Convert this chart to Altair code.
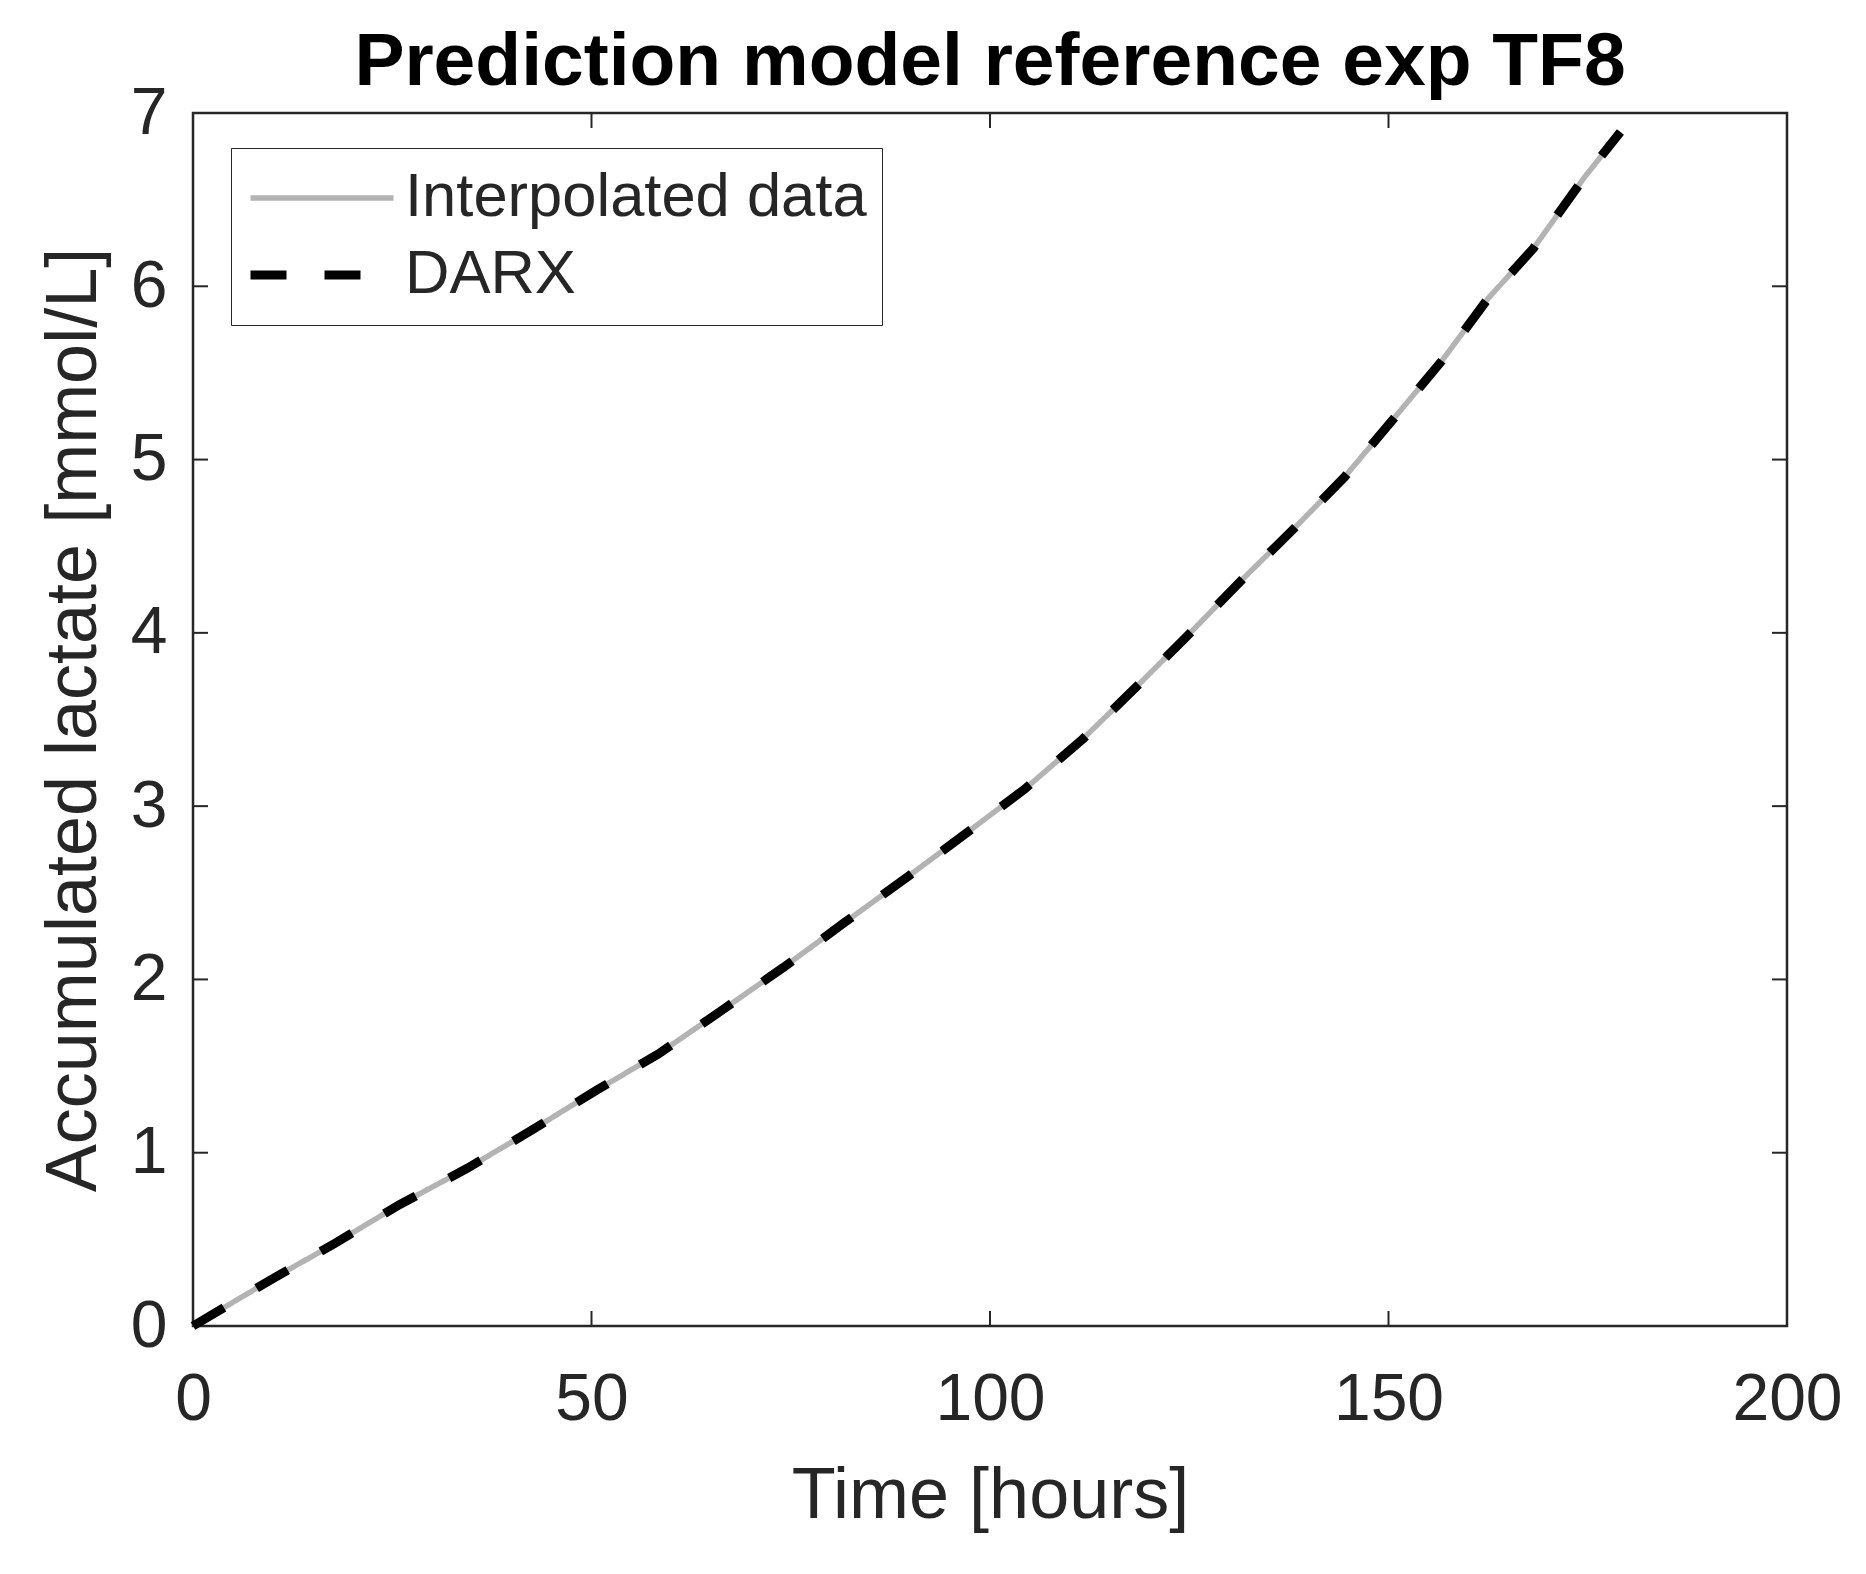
import altair as alt
import pandas as pd

# ---- data ----
time_hours = [0, 9.7, 17.8, 25.9, 34.4, 42.5, 50.6, 58.4, 66.3, 74.1, 81.8, 89.3,
              96.9, 104.4, 111.7, 118.4, 124.7, 131.7, 138.1, 144.5, 150.9, 156.7,
              162.5, 168.2, 174.6, 179.1]
interpolated = [0, 0.265, 0.477, 0.70, 0.91, 1.13, 1.36, 1.57, 1.82, 2.07, 2.33, 2.58,
                2.84, 3.10, 3.39, 3.69, 3.98, 4.31, 4.60, 4.90, 5.25, 5.57, 5.93, 6.22,
                6.63, 6.89]
darx = [0, 0.265, 0.477, 0.70, 0.91, 1.13, 1.36, 1.57, 1.82, 2.07, 2.33, 2.58,
        2.84, 3.10, 3.39, 3.69, 3.98, 4.31, 4.60, 4.90, 5.25, 5.57, 5.93, 6.22,
        6.63, 6.89]
series_names = ["Interpolated data", "DARX"]
x_tick_values = [0, 50, 100, 150, 200]
y_tick_values = [0, 1, 2, 3, 4, 5, 6, 7]

# ---- layout / style ----
W, H = 1594, 1213
FONT = "Liberation Sans"
AX = "#262626"
TICK_LEN = 15

rows = []
for t, v in zip(time_hours, interpolated):
    rows.append({"time": t, "value": v, "series": series_names[0]})
for t, v in zip(time_hours, darx):
    rows.append({"time": t, "value": v, "series": series_names[1]})
df = pd.DataFrame(rows)

xscale = alt.Scale(domain=[0, 200], nice=False, zero=False)
yscale = alt.Scale(domain=[0, 7], nice=False, zero=False)

x_enc = alt.X("time:Q", scale=xscale,
              axis=alt.Axis(values=x_tick_values, title="Time [hours]", grid=False,
                            domain=False, ticks=False, tickSize=0, labelPadding=41,
                            labelFlush=False,
                            labelFontSize=66, labelFont=FONT, labelColor=AX,
                            titleFontSize=72, titleFont=FONT, titleColor=AX,
                            titleFontWeight="normal", titleBaseline="alphabetic",
                            titleY=191, format="d"))
y_enc = alt.Y("value:Q", scale=yscale,
              axis=alt.Axis(values=y_tick_values, title="Accumulated lactate [mmol/L]",
                            grid=False, domain=False, ticks=False, tickSize=0,
                            labelFlush=False,
                            labelPadding=26, labelFontSize=66, labelFont=FONT,
                            labelColor=AX, titleFontSize=72, titleFont=FONT,
                            titleColor=AX, titleFontWeight="normal",
                            titleBaseline="alphabetic", titleAngle=270,
                            titleAlign="center", titleX=-98, titleY=H / 2,
                            format="d"))

color_enc = alt.Color("series:N",
                      scale=alt.Scale(domain=series_names, range=["#b3b3b3", "#000000"]),
                      legend=alt.Legend(title=None, orient="none", legendX=38, legendY=35,
                                        symbolType="stroke", symbolSize=20449,
                                        labelFontSize=61.5, labelFont=FONT, labelColor=AX,
                                        labelOffset=7, padding=15, strokeColor=AX,
                                        fillColor="#ffffff", clipHeight=70,
                                        rowPadding=7, labelLimit=800))
dash_enc = alt.StrokeDash("series:N",
                          scale=alt.Scale(domain=series_names, range=[[1, 0], [36, 38]]),
                          legend=alt.Legend(title=None))
width_enc = alt.StrokeWidth("series:N",
                            scale=alt.Scale(domain=series_names, range=[5.5, 9]),
                            legend=alt.Legend(title=None))

base = alt.Chart(df).encode(x=x_enc, y=y_enc, color=color_enc,
                            strokeDash=dash_enc, strokeWidth=width_enc)
gray_line = base.transform_filter(alt.datum.series == series_names[0]).mark_line()
dark_line = base.transform_filter(alt.datum.series == series_names[1]).mark_line()

xt = pd.DataFrame({"t": x_tick_values[1:-1]})
yt = pd.DataFrame({"v": y_tick_values[1:-1]})
tick_style = dict(color=AX, strokeWidth=2)
bottom_ticks = alt.Chart(xt).mark_rule(**tick_style).encode(
    x=alt.X("t:Q", scale=xscale), y=alt.value(H), y2=alt.value(H - TICK_LEN))
top_ticks = alt.Chart(xt).mark_rule(**tick_style).encode(
    x=alt.X("t:Q", scale=xscale), y=alt.value(0), y2=alt.value(TICK_LEN))
left_ticks = alt.Chart(yt).mark_rule(**tick_style).encode(
    y=alt.Y("v:Q", scale=yscale), x=alt.value(0), x2=alt.value(TICK_LEN))
right_ticks = alt.Chart(yt).mark_rule(**tick_style).encode(
    y=alt.Y("v:Q", scale=yscale), x=alt.value(W), x2=alt.value(W - TICK_LEN))

chart = alt.layer(
    bottom_ticks, top_ticks, left_ticks, right_ticks, gray_line, dark_line
).properties(
    width=W, height=H,
    title=alt.TitleParams("Prediction model reference exp TF8", fontSize=75,
                          font=FONT, fontWeight="bold", color="#000000",
                          anchor="middle", frame="group", dy=25),
    autosize=alt.AutoSizeParams(type="none"),
    padding={"left": 185, "top": 105, "right": 71, "bottom": 240},
    background="#ffffff",
).configure_view(
    stroke=AX, strokeWidth=2.5
)

chart.save("out.html", embed_options={"renderer": "svg", "actions": False})
